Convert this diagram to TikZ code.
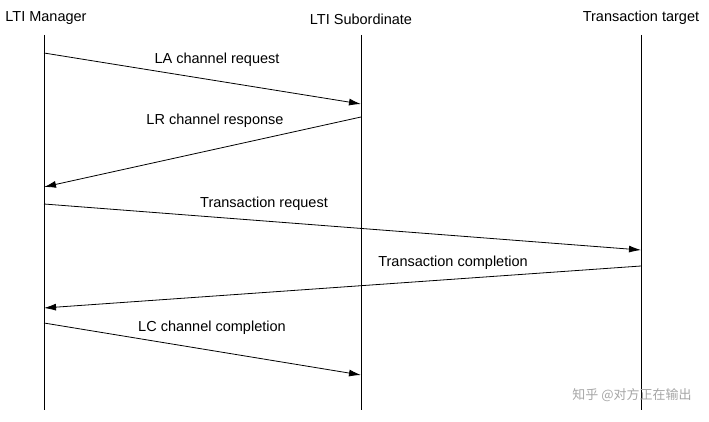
\documentclass[tikz,border=0pt]{standalone}
\usepackage{fontspec}
\setmainfont{Liberation Sans}
\newfontfamily\cjk{Noto Sans CJK SC}
\usetikzlibrary{arrows.meta}
\begin{document}
\begin{tikzpicture}[x=1pt,y=-1pt,font=\fontsize{14.5}{17}\selectfont,
  lifeline/.style={line width=0.8pt},
  msg/.style={line width=0.8pt,-{Latex[length=12pt,width=7pt]}},
  lbl/.style={inner sep=0pt}]
\useasboundingbox (0,0) rectangle (709,422);
% headers
\node[lbl] (mgr) at (46,18) {LTI Manager};
\node[lbl] (sub) at (361,19) {LTI Subordinate};
\node[lbl] (tgt) at (641,18) {Transaction target};
% lifelines
\coordinate (mgrT) at (44,35);   \coordinate (mgrB) at (44,410);
\coordinate (subT) at (361,35);  \coordinate (subB) at (361,410);
\coordinate (tgtT) at (641,35);  \coordinate (tgtB) at (641,410);
\draw[lifeline] (mgrT) -- (mgrB);
\draw[lifeline] (subT) -- (subB);
\draw[lifeline] (tgtT) -- (tgtB);
% messages
\coordinate (a1) at (44,53);   \coordinate (b1) at (361,104);
\coordinate (a2) at (361,117); \coordinate (b2) at (44,187);
\coordinate (a3) at (44,204);  \coordinate (b3) at (641,250);
\coordinate (a4) at (641,266); \coordinate (b4) at (44,308);
\coordinate (a5) at (44,323);  \coordinate (b5) at (361,375);
\draw[msg] (a1) -- (b1);
\draw[msg] (a2) -- (b2);
\draw[msg] (a3) -- (b3);
\draw[msg] (a4) -- (b4);
\draw[msg] (a5) -- (b5);
\node[lbl] (l1) at (217,60) {LA channel request};
\node[lbl] (l2) at (215,121) {LR channel response};
\node[lbl] (l3) at (264,204) {Transaction request};
\node[lbl] (l4) at (453,263) {Transaction completion};
\node[lbl] (l5) at (212,328) {LC channel completion};
% watermark
\node[lbl,text=gray!70,font=\cjk\fontsize{13}{15}\selectfont] (wm) at (632,395) {知乎 @对方正在输出};
\end{tikzpicture}
\end{document}
